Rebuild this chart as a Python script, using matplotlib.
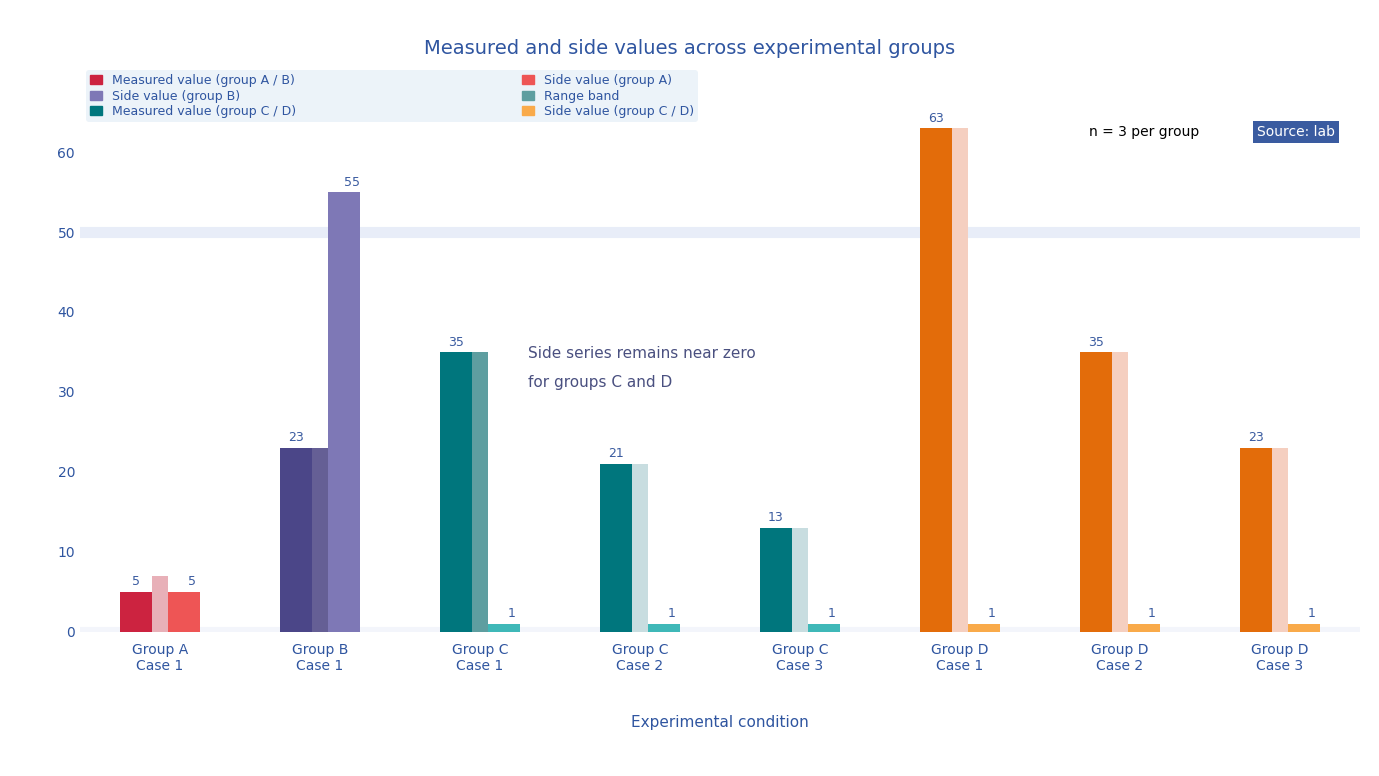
import numpy as np
import matplotlib.pyplot as plt
from matplotlib.patches import Patch

groups = ["Group A\nCase 1", "Group B\nCase 1", "Group C\nCase 1", "Group C\nCase 2",
          "Group C\nCase 3", "Group D\nCase 1", "Group D\nCase 2", "Group D\nCase 3"]
main_vals = [5, 23, 35, 21, 13, 63, 35, 23]
band_vals = [7, 23, 35, 21, 13, 63, 35, 23]
side_vals = [5, 55, 1, 1, 1, 1, 1, 1]

main_cols = ["#cc2340", "#4b4688", "#00767d", "#00767d", "#00767d", "#e36c0a", "#e36c0a", "#e36c0a"]
band_cols = ["#e8b0b8", "#655f95", "#5e9ea0", "#c8dde0", "#c8dde0", "#f5cfc0", "#f5cfc0", "#f5cfc0"]
side_cols = ["#ee5555", "#7e78b6", "#3fb8b8", "#3fb8b8", "#3fb8b8", "#f9aa4a", "#f9aa4a", "#f9aa4a"]

fig = plt.figure(figsize=(13.79, 7.76), dpi=100)
ax = fig.add_axes([0.058, 0.186, 0.928, 0.69])
x = np.arange(len(groups))

ax.bar(x - 0.15, main_vals, 0.2, color=main_cols, zorder=3)
ax.bar(x, band_vals, 0.1, color=band_cols, zorder=3)
ax.bar(x + 0.15, side_vals, 0.2, color=side_cols, zorder=3)

for i in range(len(groups)):
    ax.text(x[i] - 0.15, main_vals[i] + 0.8, f"{main_vals[i]}", ha="center", fontsize=9, color="#3a5ba0")
    ax.text(x[i] + 0.2, side_vals[i] + 0.8, f"{side_vals[i]}", ha="center", fontsize=9, color="#3a5ba0")

ax.set_xlim(-0.5, 7.5)
ax.set_ylim(0, 67)
ax.set_yticks([0, 10, 20, 30, 40, 50, 60])
ax.set_xticks(x)
ax.set_xticklabels(groups, fontsize=10, color="#2f55a0")
ax.set_xlabel("Experimental condition", fontsize=11, color="#2f55a0", labelpad=30)
ax.tick_params(axis="y", labelsize=10, colors="#2f55a0", length=0)
ax.tick_params(axis="x", length=0, pad=8)
ax.axhline(50, color="#e8edf8", lw=8, zorder=1)
ax.axhline(0, color="#f3f5fb", lw=8, zorder=1)
for s in ax.spines.values():
    s.set_visible(False)

ax.text(2.3, 33, "Side series remains near zero\nfor groups C and D", fontsize=11, color="#4a5080",
        va="center", linespacing=2.2)

handles = [Patch(color="#cc2340"), Patch(color="#7e78b6"), Patch(color="#00767d"),
           Patch(color="#ee5555"), Patch(color="#5e9ea0"), Patch(color="#f9aa4a")]
labels = ["Measured value (group A / B)", "Side value (group B)", "Measured value (group C / D)",
          "Side value (group A)", "Range band", "Side value (group C / D)"]
ax.legend(handles, labels, ncol=2, loc="upper left", bbox_to_anchor=(0.0, 1.06),
          fontsize=9, frameon=True, facecolor="#e8f0f8", edgecolor="none",
          labelcolor="#2f55a0", handlelength=1.0, columnspacing=18,
          labelspacing=0.2, borderpad=0.3)

fig.text(0.5, 0.93, "Measured and side values across experimental groups", ha="center",
         fontsize=14, color="#2f55a0")
fig.text(0.79, 0.825, "n = 3 per group", fontsize=10, color="black")
fig.text(0.94, 0.825, "Source: lab", fontsize=10, color="white", ha="center",
         bbox=dict(boxstyle="square", fc="#3a5ba0", ec="none"))

fig.savefig("out.png", dpi=100)
